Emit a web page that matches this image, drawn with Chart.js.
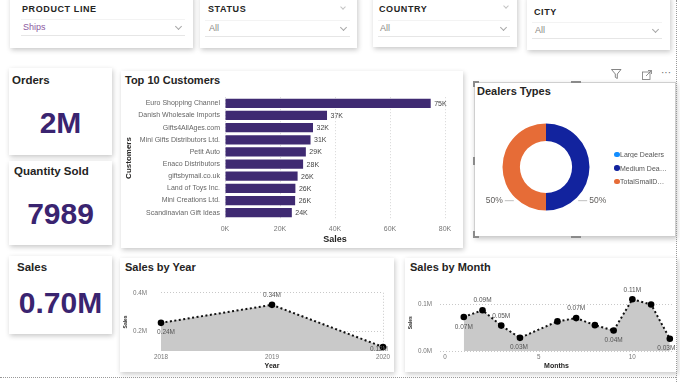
<!DOCTYPE html>
<html>
<head>
<meta charset="utf-8">
<title>Sales Dashboard</title>
<script src="https://cdn.jsdelivr.net/npm/chart.js@4.4.1/dist/chart.umd.min.js"></script>
<style>
  body { margin: 0; background: #fff; font-family: "Liberation Sans", Arial, sans-serif; }
  #page { position: relative; width: 680px; height: 382px; overflow: hidden; background: #fff; }
  .card { position: absolute; background: #fff; box-shadow: 1px 2px 5px rgba(0,0,0,0.22); }
  .txt { position: absolute; line-height: 1; white-space: nowrap; }
  .stitle { font-size: 9px; font-weight: bold; letter-spacing: 0.6px; color: #252423; }
  .sval { font-size: 9px; color: #8a8886; }
  .drop { position: absolute; height: 15px; border-bottom: 1px solid #e6e6e6; border-top: 1px solid #f3f3f3; }
  .chev { position: absolute; width: 4px; height: 4px; border-right: 1px solid #a8a8a8; border-bottom: 1px solid #a8a8a8; transform: rotate(45deg); }
  .chev.small { width: 3px; height: 3px; border-color: #c4c4c4; }
  .ktitle { font-size: 11.5px; font-weight: bold; color: #252423; }
  .kval { font-size: 30px; font-weight: bold; color: #3a2470; text-align: center; }
  .ctitle { font-size: 11px; font-weight: bold; color: #252423; }
  .handle { position: absolute; background: #8a8a8a; }
  canvas { position: absolute; }
  #legend div { position: absolute; font-size: 7px; color: #555; line-height: 1; width: 48px; overflow: hidden; text-overflow: ellipsis; white-space: nowrap; padding-left: 6px; }
  #legend span { position: absolute; left: 0; top: 0.5px; width: 5.5px; height: 5.5px; border-radius: 50%; }
</style>
</head>
<body>
<div id="page">
  <!-- slicers -->
  <div class="card" style="left:10px;top:-6px;width:183px;height:54px"></div>
  <div class="card" style="left:200px;top:-6px;width:157px;height:54px"></div>
  <div class="card" style="left:373px;top:-6px;width:144px;height:53px"></div>
  <div class="card" style="left:527px;top:-4px;width:143px;height:54px"></div>

  <div class="txt stitle" style="left:22px;top:4.6px">PRODUCT LINE</div>
  <div class="drop" style="left:21px;top:19px;width:164px"></div>
  <div class="txt sval" style="left:23px;top:22.6px;color:#8b5a9f">Ships</div>
  <div class="chev" style="left:175.5px;top:24px"></div>

  <div class="txt stitle" style="left:208px;top:4.6px">STATUS</div>
  <div class="chev small" style="left:341px;top:5px"></div>
  <div class="drop" style="left:205px;top:20px;width:145px"></div>
  <div class="txt sval" style="left:209px;top:23.6px">All</div>
  <div class="chev" style="left:340.5px;top:25px"></div>

  <div class="txt stitle" style="left:379px;top:4.6px">COUNTRY</div>
  <div class="chev small" style="left:504px;top:4px"></div>
  <div class="drop" style="left:378px;top:20px;width:132px"></div>
  <div class="txt sval" style="left:380px;top:23.6px">All</div>
  <div class="chev" style="left:500.5px;top:25px"></div>

  <div class="txt stitle" style="left:534px;top:7.6px">CITY</div>
  <div class="drop" style="left:532px;top:22px;width:130px"></div>
  <div class="txt sval" style="left:535px;top:25.6px">All</div>
  <div class="chev" style="left:652.5px;top:27px"></div>

  <!-- KPI cards -->
  <div class="card" style="left:9px;top:68px;width:103px;height:87px"></div>
  <div class="txt ktitle" style="left:12px;top:75px">Orders</div>
  <div class="txt kval" style="left:9px;top:108px;width:103px">2M</div>

  <div class="card" style="left:9px;top:161px;width:103px;height:84px"></div>
  <div class="txt ktitle" style="left:14px;top:166px">Quantity Sold</div>
  <div class="txt kval" style="left:9px;top:198.5px;width:103px">7989</div>

  <div class="card" style="left:9px;top:256px;width:103px;height:78px"></div>
  <div class="txt ktitle" style="left:17px;top:261.5px">Sales</div>
  <div class="txt kval" style="left:9px;top:287.5px;width:103px">0.70M</div>

  <!-- Top 10 customers -->
  <div class="card" style="left:121px;top:71px;width:342px;height:177px"></div>
  <div class="txt ctitle" style="left:125px;top:75px">Top 10 Customers</div>
  <canvas id="barChart" width="342" height="162" style="left:120px;top:88px"></canvas>

  <!-- Dealers types -->
  <svg style="position:absolute;left:611px;top:69px" width="11" height="10"><path d="M0.5 0.5 H10 L6.3 5 V9.5 L4.3 8.3 V5 Z" fill="none" stroke="#666" stroke-width="0.8"/></svg>
  <svg style="position:absolute;left:642px;top:70px" width="10" height="10"><rect x="0.5" y="2" width="7.5" height="7.5" fill="none" stroke="#777" stroke-width="0.8"/><path d="M4 6 L9.5 0.5 M6 0.5 H9.5 V4" fill="none" stroke="#777" stroke-width="0.8"/></svg>
  <div class="txt" style="left:661px;top:68px;font-size:10px;color:#666">···</div>
  <div class="card" style="left:474px;top:82px;width:202px;height:155px;border:1px solid #cfcfcf;box-sizing:border-box"></div>
  <div class="handle" style="left:473px;top:81px;width:6px;height:1.5px"></div>
  <div class="handle" style="left:473px;top:81px;width:1.5px;height:6px"></div>
  <div class="handle" style="left:571px;top:81px;width:10px;height:1.5px"></div>
  <div class="handle" style="left:473px;top:157px;width:1.5px;height:8px"></div>
  <div class="handle" style="left:571px;top:236px;width:10px;height:1.5px"></div>
  <div class="handle" style="left:473px;top:231px;width:1.5px;height:6px"></div>
  <div class="handle" style="left:473px;top:236px;width:6px;height:1.5px"></div>
  <div class="txt ctitle" style="left:477px;top:86px">Dealers Types</div>
  <canvas id="donutChart" width="144" height="114" style="left:474px;top:110px"></canvas>
  <div id="legend"></div>

  <!-- Sales by year -->
  <div class="card" style="left:120px;top:258px;width:274px;height:114px"></div>
  <div class="txt ctitle" style="left:125px;top:261.5px">Sales by Year</div>
  <canvas id="yearChart" width="277" height="98" style="left:120px;top:275px"></canvas>

  <!-- Sales by month -->
  <div class="card" style="left:405px;top:258px;width:272px;height:114px"></div>
  <div class="txt ctitle" style="left:410px;top:261.5px">Sales by Month</div>
  <canvas id="monthChart" width="273" height="98" style="left:405px;top:275px"></canvas>

  <!-- page edges -->
  <div style="position:absolute;left:676px;top:0;height:382px;border-left:1px dotted #999"></div>
  <div style="position:absolute;left:0;top:377px;width:676px;border-top:1px dotted #999"></div>
</div>

<script>
// Top 10 customers (sales in thousands)
const customers = ['Euro Shopping Channel', 'Danish Wholesale Imports', 'Gifts4AllAges.com', 'Mini Gifts Distributors Ltd.',
  'Petit Auto', 'Enaco Distributors', 'giftsbymail.co.uk', 'Land of Toys Inc.', 'Mini Creations Ltd.', 'Scandinavian Gift Ideas'];
const customerSales = [74.8, 37.1, 32.0, 31.1, 29.4, 28.4, 26.4, 25.6, 25.5, 24.3];
const customerTicks = [0, 20, 40, 60, 80];

// Dealers types (share)
const dealerTypes = ['Large Dealers', 'Medium Dealers', 'TotalSmallDealers'];
const dealerShare = [0, 50, 50];

// Sales by year (millions)
const years = [2018, 2019, 2020];
const salesByYear = [0.243, 0.337, 0.117];
const yearTicks = [0.2, 0.4];

// Sales by month (millions), no point for month 5
const months = [1, 2, 3, 4, 6, 7, 8, 9, 10, 11, 12];
const salesByMonth = [0.0725, 0.0867, 0.054, 0.028, 0.063, 0.070, 0.055, 0.0436, 0.110, 0.099, 0.026];
const monthTicks = [0, 5, 10];
const monthSalesTicks = [0, 0.1];

const dealerColors = ['#118DFF', '#12239E', '#E66C37'];
const FONT = '"Liberation Sans", Arial, sans-serif';
Chart.defaults.font.family = FONT;

// legend for the donut
const legend = document.getElementById('legend');
dealerTypes.forEach((name, i) => {
  const item = document.createElement('div');
  item.style.left = '614px';
  item.style.top = (151 + i * 13.6) + 'px';
  item.innerHTML = `<span style="background:${dealerColors[i]}"></span>${name}`;
  legend.appendChild(item);
});

const barLabels = {
  id: 'barLabels',
  afterDatasetsDraw(chart) {
    const ctx = chart.ctx;
    ctx.save();
    ctx.font = '7px ' + FONT;
    ctx.fillStyle = '#444';
    ctx.textBaseline = 'middle';
    chart.getDatasetMeta(0).data.forEach((bar, i) => {
      ctx.fillText(Math.round(customerSales[i]) + 'K', bar.x + 3.5, bar.y + 0.5);
    });
    ctx.restore();
  }
};

const donutLabels = {
  id: 'donutLabels',
  afterDatasetsDraw(chart) {
    const ctx = chart.ctx;
    const values = chart.data.datasets[0].data;
    const total = values.reduce((a, b) => a + b, 0);
    ctx.save();
    ctx.font = '8.5px ' + FONT;
    ctx.fillStyle = '#605e5c';
    ctx.strokeStyle = '#b0b0b0';
    ctx.lineWidth = 0.8;
    ctx.textBaseline = 'middle';
    chart.getDatasetMeta(0).data.forEach((arc, i) => {
      if (!values[i]) return;
      const mid = (arc.startAngle + arc.endAngle) / 2;
      const a = mid + (Math.PI / 2 - mid) / 2;
      const x0 = arc.x + Math.cos(a) * (arc.outerRadius + 2);
      const y0 = arc.y + Math.sin(a) * (arc.outerRadius + 2) + 1.5;
      const dir = Math.cos(a) >= 0 ? 1 : -1;
      ctx.beginPath();
      ctx.moveTo(x0, y0);
      ctx.lineTo(x0 + dir * 9, y0);
      ctx.stroke();
      ctx.textAlign = dir > 0 ? 'left' : 'right';
      ctx.fillText(Math.round(values[i] / total * 100) + '%', x0 + dir * 11, y0);
    });
    ctx.restore();
  }
};

function pointLabels(placements) {
  return {
    id: 'pointLabels',
    afterDatasetsDraw(chart) {
      const ctx = chart.ctx;
      const pts = chart.getDatasetMeta(0).data;
      const values = chart.data.datasets[0].data;
      ctx.save();
      ctx.font = '6.5px ' + FONT;
      ctx.fillStyle = '#555';
      ctx.textAlign = 'center';
      ctx.textBaseline = 'middle';
      Object.keys(placements).forEach(k => {
        const [dx, dy] = placements[k];
        const p = pts[k];
        ctx.fillText(values[k].y.toFixed(2) + 'M', p.x + dx, p.y + dy);
      });
      ctx.restore();
    }
  };
}

const noPlugins = { legend: { display: false }, tooltip: { enabled: false } };
const dotted = { display: false, dash: [1, 2] };

new Chart(document.getElementById('barChart'), {
  type: 'bar',
  data: {
    labels: customers,
    datasets: [{ data: customerSales, backgroundColor: '#3f2a72', barPercentage: 0.76, categoryPercentage: 1 }]
  },
  options: {
    indexAxis: 'y', responsive: false, animation: false,
    layout: { padding: { top: 8.6, right: 17, left: 0, bottom: 0 } },
    plugins: noPlugins,
    scales: {
      x: {
        min: 0, max: 80,
        afterBuildTicks: a => { a.ticks = customerTicks.map(v => ({ value: v })); },
        afterFit: s => { s.height = 31.2; },
        ticks: { callback: v => v + 'K', font: { size: 7 }, color: '#777', padding: 6 },
        grid: { color: '#d6d6d6', drawTicks: false },
        border: dotted,
        title: { display: true, text: 'Sales', font: { size: 9, weight: 'bold' }, color: '#252423', padding: { top: 0, bottom: 5 } }
      },
      y: {
        afterFit: s => { s.width = 105; },
        ticks: { font: { size: 7 }, color: '#666', padding: 5, autoSkip: false },
        grid: { display: false, drawTicks: false },
        border: { display: false },
        title: { display: true, text: 'Customers', font: { size: 8, weight: 'bold' }, color: '#252423', padding: { top: 4, bottom: 0 } }
      }
    }
  },
  plugins: [barLabels]
});

new Chart(document.getElementById('donutChart'), {
  type: 'doughnut',
  data: { labels: dealerTypes, datasets: [{ data: dealerShare, backgroundColor: dealerColors, borderWidth: 0 }] },
  options: { responsive: false, animation: false, cutout: '60%', layout: { padding: 13.5 }, plugins: noPlugins },
  plugins: [donutLabels]
});

function areaLine(canvasId, xs, ys, opt) {
  return new Chart(document.getElementById(canvasId), {
    type: 'line',
    data: {
      datasets: [{
        data: xs.map((x, i) => ({ x: x, y: ys[i] })),
        borderColor: '#111', borderWidth: 2, borderDash: [2, 2.5],
        pointRadius: 3.3, pointBackgroundColor: '#000', pointBorderWidth: 0,
        fill: opt.fill, backgroundColor: '#c9c9c9', tension: 0, clip: false
      }]
    },
    options: {
      responsive: false, animation: false,
      layout: { padding: opt.padding },
      plugins: noPlugins,
      scales: {
        x: {
          type: 'linear', min: opt.xMin, max: opt.xMax,
          afterBuildTicks: a => { a.ticks = opt.xTicks.map(v => ({ value: v })); },
          afterFit: s => { s.height = 22; },
          ticks: { callback: v => String(v), font: { size: 6.3 }, color: '#777', padding: 2.4 },
          grid: { color: opt.xGrid, drawTicks: false },
          border: dotted,
          title: { display: true, text: opt.xTitle, font: { size: 7, weight: 'bold' }, color: '#252423', padding: { top: 0, bottom: 2.8 } }
        },
        y: {
          min: opt.yMin, max: opt.yMax,
          afterBuildTicks: a => { a.ticks = opt.yTicks.map(v => ({ value: v })); },
          afterFit: s => { s.width = opt.yWidth; },
          ticks: { callback: v => v.toFixed(1) + 'M', font: { size: 6.3 }, color: '#777', padding: opt.yPad },
          grid: { color: '#c8c8c8', drawTicks: false },
          border: dotted,
          title: { display: true, text: 'Sales', font: { size: 5, weight: 'bold' }, color: '#252423', padding: { top: opt.yTitlePad, bottom: 0 } }
        }
      }
    },
    plugins: [pointLabels(opt.labels)]
  });
}

areaLine('yearChart', years, salesByYear, {
  fill: 'start', padding: { top: 5, right: 14, left: 0, bottom: 0 },
  xMin: 2018, xMax: 2020, xTicks: years, xTitle: 'Year',
  xGrid: c => (c.index === years.length - 1 ? '#c8c8c8' : 'rgba(0,0,0,0)'),
  yMin: 0.096, yMax: 0.4, yTicks: yearTicks, yWidth: 41, yPad: 14, yTitlePad: 2.7,
  labels: { 0: [5, 9.5], 1: [0, -9.5], 2: [-4, 2.7] }
});

areaLine('monthChart', months, salesByMonth, {
  fill: 'origin', padding: { top: 19.6, right: 5, left: 0, bottom: 0 },
  xMin: -0.27, xMax: 12.17, xTicks: monthTicks, xTitle: 'Months',
  xGrid: 'rgba(0,0,0,0)',
  yMin: 0, yMax: 0.12, yTicks: monthSalesTicks, yWidth: 35, yPad: 8, yTitlePad: 3,
  labels: { 0: [0, 10], 1: [0, -10], 2: [0, -9], 3: [-1, 9], 5: [0, -10], 7: [0, 9.5], 8: [0, -9.5], 10: [-3.5, 9] }
});
</script>
</body>
</html>
